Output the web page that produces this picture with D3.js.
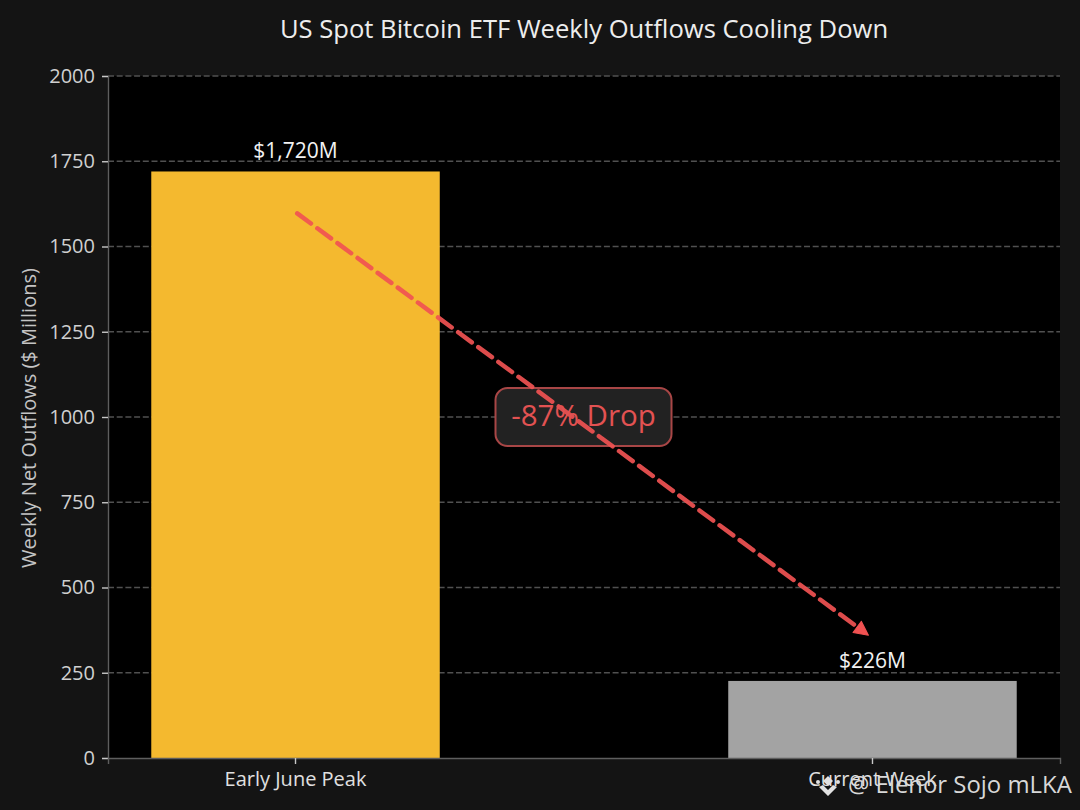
<!DOCTYPE html>
<html>
<head>
<meta charset="utf-8">
<script src="https://cdn.jsdelivr.net/npm/d3@7"></script>
<style>
  html, body { margin: 0; padding: 0; background: #141414; }
  svg { display: block; }
  text { font-family: "Open Sans", Roboto, sans-serif; }
</style>
</head>
<body>
<svg id="plot" width="1080" height="810"></svg>
<script>
// data
let categories = ["Early June Peak", "Current Week"]
let outflows = [1720, 226]
let valueLabels = ["$1,720M", "$226M"]
let barColors = ["#f4b92f", "#a3a3a3"]
let yTicks = [0, 250, 500, 750, 1000, 1250, 1500, 1750, 2000]

// arrow start/end in data units: [category position, value]
let arrowFrom = [0.003, 1597]
let arrowTo = [0.993, 360]
let dropLabel = "-87% Drop"
let dropLabelValue = 1000
let dropLabelPos = 0.5

const plotL = 108, plotR = 1060, plotT = 76, plotB = 758

let svg = d3.select("#plot")

let xScale = d3.scaleBand()
  .domain(categories)
  .range([plotL, plotR])
  .paddingInner(0.5)
  .paddingOuter(0.075)

let yScale = d3.scaleLinear()
  .domain([0, 2000])
  .range([plotB, plotT])

// continuous position between the two bar centres
let xPos = d3.scaleLinear()
  .domain([0, 1])
  .range(categories.map(c => xScale(c) + xScale.bandwidth() / 2))

// title
svg.append("text")
  .attr("x", 584)
  .attr("y", 38)
  .attr("text-anchor", "middle")
  .attr("font-size", 25.6)
  .attr("fill", "#ededed")
  .text("US Spot Bitcoin ETF Weekly Outflows Cooling Down")

// plot background
svg.append("rect")
  .attr("x", plotL)
  .attr("y", plotT)
  .attr("width", plotR - plotL)
  .attr("height", plotB - plotT)
  .attr("fill", "#000")

// gridlines
svg.append("g")
  .selectAll("line")
  .data(yTicks.filter(d => d > 0))
  .enter()
  .append("line")
  .attr("x1", plotL)
  .attr("x2", plotR)
  .attr("y1", d => yScale(d))
  .attr("y2", d => yScale(d))
  .attr("stroke", "#505050")
  .attr("stroke-width", 1.5)
  .attr("stroke-dasharray", "6 2.7")

// bars
svg.append("g")
  .selectAll("rect")
  .data(outflows)
  .enter()
  .append("rect")
  .attr("x", (d, i) => xScale(categories[i]))
  .attr("y", d => yScale(d))
  .attr("width", xScale.bandwidth())
  .attr("height", d => yScale(0) - yScale(d))
  .attr("fill", (d, i) => barColors[i])

// axes
let yAxis = svg.append("g")
  .attr("transform", `translate(${plotL},0)`)
  .call(d3.axisLeft(yScale).tickValues(yTicks).tickSize(6).tickPadding(7).tickFormat(d3.format("d")))

let xAxis = svg.append("g")
  .attr("transform", `translate(0,${plotB})`)
  .call(d3.axisBottom(xScale).tickSize(6).tickPadding(8))

yAxis.selectAll("text").attr("font-size", 20).attr("fill", "#d0d0d0").attr("font-family", "'Open Sans'")
xAxis.selectAll("text").attr("font-size", 20).attr("fill", "#e0e0e0").attr("font-family", "'Open Sans'")
svg.selectAll(".domain").attr("stroke", "#5e5e5e").attr("stroke-width", 1.4)
svg.selectAll(".tick line").attr("stroke", "#c8c8c8").attr("stroke-width", 1.4)

// y axis title
svg.append("text")
  .attr("transform", "translate(36,418) rotate(-90)")
  .attr("text-anchor", "middle")
  .attr("font-size", 20)
  .attr("fill", "#c4c4c4")
  .text("Weekly Net Outflows ($ Millions)")

// value labels
svg.append("g")
  .selectAll("text")
  .data(outflows)
  .enter()
  .append("text")
  .attr("x", (d, i) => xScale(categories[i]) + xScale.bandwidth() / 2)
  .attr("y", d => yScale(d) - 13)
  .attr("text-anchor", "middle")
  .attr("font-size", 21)
  .attr("fill", "#f2f2f2")
  .text((d, i) => valueLabels[i])

// label box sits under the arrow, the text over it
let boxCx = xPos(dropLabelPos) - 0.5, boxCy = yScale(dropLabelValue)
svg.append("rect")
  .attr("x", boxCx - 88)
  .attr("y", boxCy - 29)
  .attr("width", 176)
  .attr("height", 58)
  .attr("rx", 12)
  .attr("fill", "#222")
  .attr("stroke", "#a84646")
  .attr("stroke-width", 2)

// arrow
let ax0 = xPos(arrowFrom[0]), ay0 = yScale(arrowFrom[1])
let ax1 = xPos(arrowTo[0]), ay1 = yScale(arrowTo[1])
let ang = Math.atan2(ay1 - ay0, ax1 - ax0)

svg.append("path")
  .attr("d", d3.line()([[ax0, ay0], [ax1 - 8 * Math.cos(ang), ay1 - 8 * Math.sin(ang)]]))
  .attr("stroke", "#f05252")
  .attr("stroke-opacity", 0.92)
  .attr("stroke-width", 4.5)
  .attr("stroke-linecap", "round")
  .attr("stroke-dasharray", "17 8")
  .attr("fill", "none")

svg.append("path")
  .attr("d", "M0,0L-14,-7L-14,7Z")
  .attr("transform", `translate(${ax1},${ay1}) rotate(${ang * 180 / Math.PI})`)
  .attr("fill", "#f05252")
  .attr("stroke", "#f05252")
  .attr("stroke-width", 1)
  .attr("stroke-linejoin", "round")

svg.append("text")
  .attr("x", boxCx)
  .attr("y", boxCy + 9)
  .attr("text-anchor", "middle")
  .attr("font-size", 29.5)
  .attr("fill", "#e25252")
  .text(dropLabel)

// watermark: diamond on top, two side dots, chevron below
let mark = svg.append("g").attr("transform", "translate(828,785)")
mark.append("path")
  .attr("d", "M0,-9L5,-4L0,1L-5,-4Z")
  .attr("fill", "#e2e2e2")
mark.selectAll("circle")
  .data([-10, 10])
  .enter()
  .append("circle")
  .attr("cx", d => d)
  .attr("cy", -3)
  .attr("r", 2)
  .attr("fill", "#e2e2e2")
mark.append("path")
  .attr("d", "M-9,2L0,11L9,2L5,0L0,5L-5,0Z")
  .attr("fill", "#e2e2e2")

svg.append("text")
  .attr("x", 848)
  .attr("y", 793)
  .attr("font-size", 23.9)
  .attr("fill", "#d8d8d8")
  .attr("font-family", "'DejaVu Sans'")
  .text("@ Elenor Sojo mLKA")
</script>
</body>
</html>
